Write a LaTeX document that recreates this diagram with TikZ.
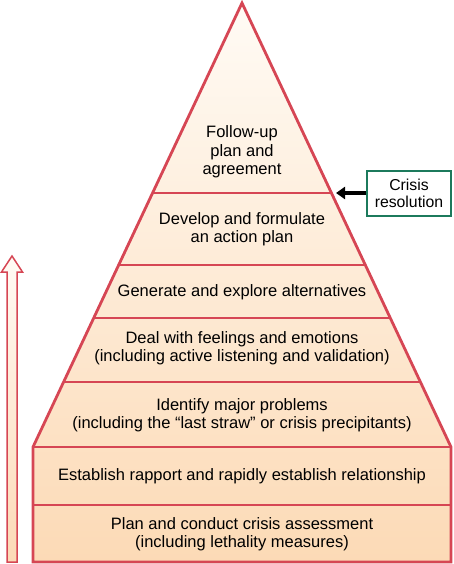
\documentclass[tikz,border=0pt]{standalone}
\usepackage{fontspec}
\setmainfont{Liberation Sans}
\usetikzlibrary{arrows.meta}
\definecolor{pyrred}{RGB}{214,70,84}
\definecolor{boxgreen}{RGB}{28,122,92}
\definecolor{peachtop}{RGB}{255,251,245}
\definecolor{peachbot}{RGB}{252,218,182}
\tikzset{
  x=1pt,y=-1pt,
  outline/.style={draw=pyrred,line width=2.8pt,line join=miter},
  divider/.style={draw=pyrred,line width=1.8pt},
  label/.style={align=center,font=\fontsize{16.5}{18.3}\selectfont,text=black,inner sep=0pt},
  crisisbox/.style={draw=boxgreen,line width=2pt,fill=white,minimum width=84pt,minimum height=45pt,align=center,font=\fontsize{15.8}{17}\selectfont,inner sep=0pt},
}
\begin{document}
\begin{tikzpicture}
\useasboundingbox (0,0) rectangle (454,564);
% pyramid body
\shade[top color=peachtop,bottom color=peachbot] (242,3) -- (33,447) -- (33,562) -- (451,562) -- (451,447) -- cycle;
% dividers
\draw[divider] (152.56,193) -- (331.44,193);
\draw[divider] (118.67,265) -- (365.33,265);
\draw[divider] (93.72,318) -- (390.28,318);
\draw[divider] (63.60,382) -- (420.40,382);
\draw[divider] (33,447) -- (451,447);
\draw[divider] (33,505) -- (451,505);
\draw[outline] (242,3) -- (33,447) -- (33,562) -- (451,562) -- (451,447) -- cycle;
% labels
\node[label] (l1) at (242,152) {Follow-up\\plan and\\agreement};
\node[label] (l2) at (242,229) {Develop and formulate\\an action plan};
\node[label] (l3) at (242,292) {Generate and explore alternatives};
\node[label] (l4) at (242,348) {Deal with feelings and emotions\\(including active listening and validation)};
\node[label] (l5) at (242,415) {Identify major problems\\(including the “last straw” or crisis precipitants)};
\node[label] (l6) at (242,476) {Establish rapport and rapidly establish relationship};
\node[label] (l7) at (242,534) {Plan and conduct crisis assessment\\(including lethality measures)};
% crisis resolution
\node[crisisbox] (cr) at (409,193) {Crisis\\resolution};
\coordinate (edge) at (336,193);
\draw[line width=3.2pt,-{Triangle[length=9pt,width=12pt]}] (cr.west) -- (edge);
% left hollow arrow
\shade[top color=peachtop,bottom color=peachbot] (12,256) -- (22.5,272) -- (17,272) -- (17,562) -- (7,562) -- (7,272) -- (1.5,272) -- cycle;
\draw[draw=pyrred,line width=1.5pt,line join=miter] (12,256) -- (22.5,272) -- (17,272) -- (17,562) -- (7,562) -- (7,272) -- (1.5,272) -- cycle;
\end{tikzpicture}
\end{document}
